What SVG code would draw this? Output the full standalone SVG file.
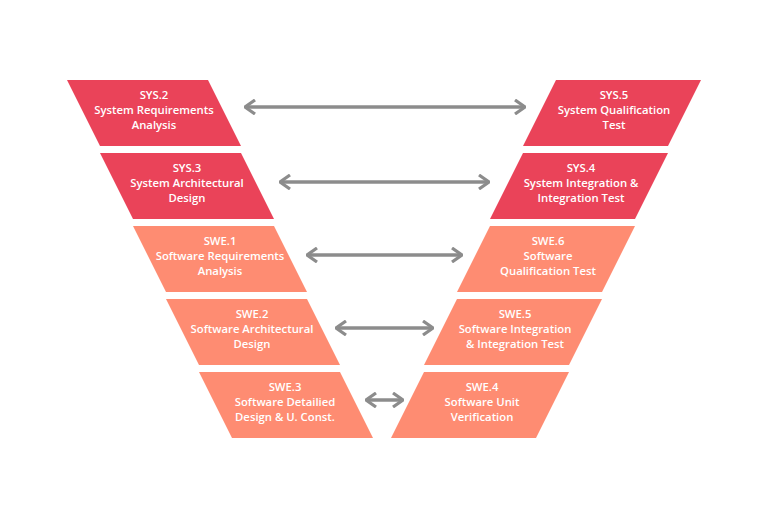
<svg xmlns="http://www.w3.org/2000/svg" width="768" height="518" viewBox="0 0 768 518">
<defs>
<marker id="ah" viewBox="0 0 12 16" refX="11" refY="8" markerWidth="12" markerHeight="16" markerUnits="userSpaceOnUse" orient="auto-start-reverse">
<path d="M1,1 L11,8 L1,15" fill="none" stroke="#8c8c8c" stroke-width="3.2"/>
</marker>
</defs>
<style>
.d{fill:#ea4359}.l{fill:#fe8c72}
text{font-family:"Open Sans","Noto Sans",sans-serif;font-size:11.3px;font-weight:600;fill:#fff;text-anchor:middle}
.c{stroke:#8c8c8c;stroke-width:3.5;fill:none;marker-start:url(#ah);marker-end:url(#ah)}
</style>
<rect width="768" height="518" fill="#fff"/>
<g id="sys2"><polygon class="d" points="67,80 208,80 241,146 100,146"/><text x="154" y="99">SYS.2</text><text x="154" y="114">System Requirements</text><text x="154" y="129">Analysis</text></g>
<g id="sys3"><polygon class="d" points="100,153 241,153 274,219 133,219"/><text x="187" y="172">SYS.3</text><text x="187" y="187">System Architectural</text><text x="187" y="202">Design</text></g>
<g id="swe1"><polygon class="l" points="133,226 274,226 307,292 166,292"/><text x="220" y="245">SWE.1</text><text x="220" y="260">Software Requirements</text><text x="220" y="275">Analysis</text></g>
<g id="swe2"><polygon class="l" points="166,299 307,299 340,365 199,365"/><text x="252" y="318">SWE.2</text><text x="252" y="333">Software Architectural</text><text x="252" y="348">Design</text></g>
<g id="swe3"><polygon class="l" points="199,372 340,372 373,438 232,438"/><text x="285" y="391">SWE.3</text><text x="285" y="406">Software Detailied</text><text x="285" y="421">Design &amp; U. Const.</text></g>
<g id="sys5"><polygon class="d" points="556,80 701,80 668,146 523,146"/><text x="614" y="99">SYS.5</text><text x="614" y="114">System Qualification</text><text x="614" y="129">Test</text></g>
<g id="sys4"><polygon class="d" points="523,153 668,153 635,219 490,219"/><text x="581" y="172">SYS.4</text><text x="581" y="187">System Integration &amp;</text><text x="581" y="202">Integration Test</text></g>
<g id="swe6"><polygon class="l" points="490,226 635,226 602,292 457,292"/><text x="548" y="245">SWE.6</text><text x="548" y="260">Software</text><text x="548" y="275">Qualification Test</text></g>
<g id="swe5"><polygon class="l" points="457,299 602,299 569,365 424,365"/><text x="515" y="318">SWE.5</text><text x="515" y="333">Software Integration</text><text x="515" y="348">&amp; Integration Test</text></g>
<g id="swe4"><polygon class="l" points="424,372 569,372 536,438 391,438"/><text x="482" y="391">SWE.4</text><text x="482" y="406">Software Unit</text><text x="482" y="421">Verification</text></g>
<g id="connectors">
<line class="c" x1="245" y1="107" x2="525" y2="107"/>
<line class="c" x1="280" y1="182" x2="489" y2="182"/>
<line class="c" x1="307" y1="255" x2="462" y2="255"/>
<line class="c" x1="336" y1="328" x2="433" y2="328"/>
<line class="c" x1="366" y1="400" x2="403" y2="400"/>
</g>
</svg>
